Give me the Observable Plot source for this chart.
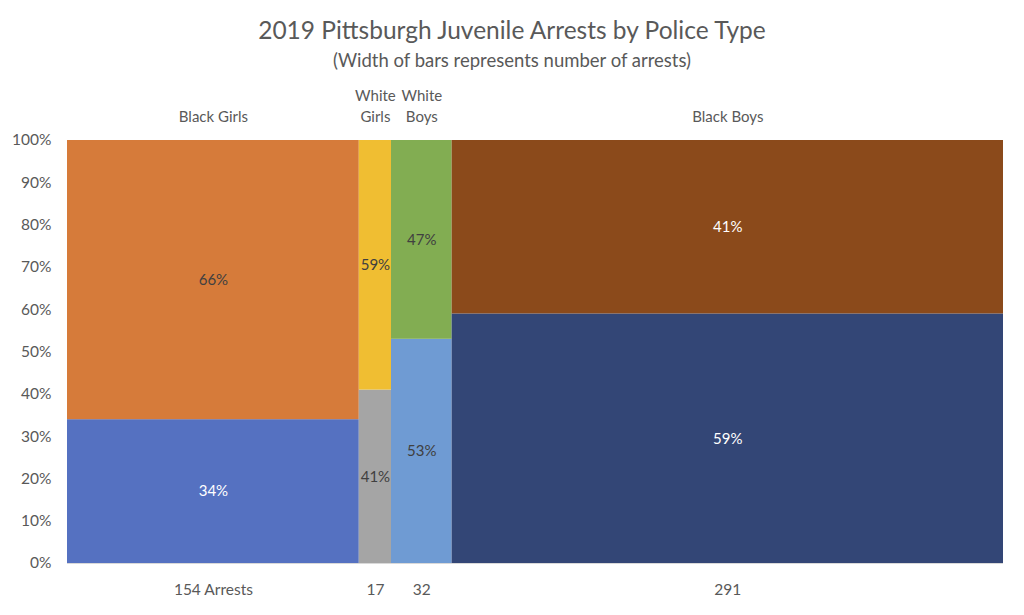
<!DOCTYPE html>
<html><head><meta charset="utf-8">
<script src="https://cdn.jsdelivr.net/npm/d3@7"></script>
<script src="https://cdn.jsdelivr.net/npm/@observablehq/plot@0.6"></script>
<style>
body{margin:0;background:#fff;font-family:Lato,"Open Sans",sans-serif;}
#wrap{width:1024px;height:615px;position:relative;}
#title{position:absolute;top:14px;width:1024px;text-align:center;font-size:24.5px;color:#595959;line-height:32px;}
#sub{position:absolute;top:48px;width:1024px;text-align:center;font-size:18.5px;color:#595959;line-height:24px;}
#chart{position:absolute;top:80px;left:0;}
</style></head>
<body><div id="wrap"><div id="title">2019 Pittsburgh Juvenile Arrests by Police Type</div>
<div id="sub">(Width of bars represents number of arrests)</div>
<div id="chart"></div></div>
<script>
const groups = ["Black Girls", "White\nGirls", "White\nBoys", "Black Boys"];
const arrestLabels = ["154 Arrests", "17", "32", "291"];
const arrests = [154, 17, 32, 291];
const bottomPct = [34, 41, 53, 59];
const topPct = [66, 59, 47, 41];
const bottomColors = ["#5571C1", "#A5A5A5", "#6F9BD3", "#334676"];
const topColors = ["#D67B3A", "#F0BE32", "#82AD52", "#8B4A1B"];
const bottomText = ["#fff", "#404040", "#404040", "#fff"];
const topText = ["#404040", "#404040", "#404040", "#fff"];

let acc = 0;
const cols = groups.map((g, i) => { const x1 = acc; acc += arrests[i]; return {g, i, x1, x2: acc, mid: (x1 + acc) / 2}; });
const total = acc;
const cells = [];
cols.forEach(c => {
  cells.push({x1: c.x1, x2: c.x2, mid: c.mid, y1: 0, y2: bottomPct[c.i], v: bottomPct[c.i], fill: bottomColors[c.i], tc: bottomText[c.i]});
  cells.push({x1: c.x1, x2: c.x2, mid: c.mid, y1: bottomPct[c.i], y2: 100, v: topPct[c.i], fill: topColors[c.i], tc: topText[c.i]});
});

const chart = Plot.plot({
  width: 1024, height: 535,
  marginTop: 60, marginBottom: 52, marginLeft: 67, marginRight: 21,
  style: {fontFamily: "Lato, 'Open Sans', sans-serif", fontSize: "15.5px", color: "#595959", background: "#fff"},
  x: {domain: [0, total], axis: null},
  y: {domain: [0, 100], ticks: d3.range(0, 101, 10), tickFormat: d => d + "%", tickSize: 0, tickPadding: 16, label: null},
  marks: [
    Plot.rect(cells, {x1: "x1", x2: "x2", y1: "y1", y2: "y2", fill: d => d.fill}),
    Plot.ruleY([0], {stroke: "#D9D9D9"}),
    Plot.text(cells, {x: "mid", y: d => (d.y1 + d.y2) / 2, text: d => d.v + "%", fill: d => d.tc, fontSize: 15}),
    Plot.text(cols, {x: "mid", text: "g", frameAnchor: "top", lineAnchor: "bottom", dy: -19, lineHeight: 1.35, fill: "#595959", fontSize: 15}),
    Plot.text(cols, {x: "mid", text: (d) => arrestLabels[d.i], frameAnchor: "bottom", lineAnchor: "middle", dy: 27, fill: "#595959", fontSize: 15.5})
  ]
});
document.getElementById("chart").appendChild(chart);
</script></body></html>
